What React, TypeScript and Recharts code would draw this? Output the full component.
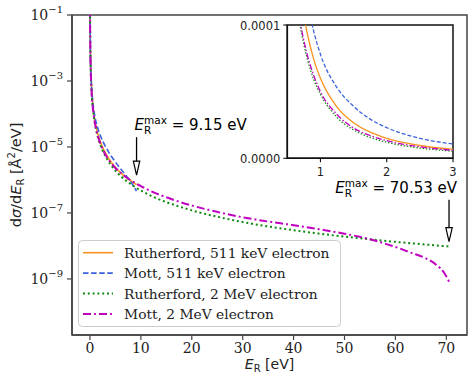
import { LineChart, Line, XAxis, YAxis, ReferenceDot, ReferenceArea } from 'recharts'

// recoil energy grid [eV]
const energies = [
  0.01, 0.02, 0.05, 0.1, 0.2, 0.3, 0.5, 0.6, 0.7, 0.8, 0.9, 1, 1.25, 1.5, 1.75, 2, 2.5, 3,
  4, 5, 6, 7, 8, 9.15, 10, 12, 15, 20, 25, 30, 35, 40, 45, 50, 55, 60, 63, 66, 68, 69.5, 70.53,
]

// dsigma/dE_R [A^2/eV], 511 keV curves stop at E_R max = 9.15 eV
const ruth511 = [
  0.6, 0.15, 0.024, 6e-3, 1.5e-3, 6.7e-4, 2.4e-4, 1.67e-4, 1.22e-4, 9.4e-5, 7.4e-5, 6.0e-5,
  3.84e-5, 2.67e-5, 1.96e-5, 1.5e-5, 9.6e-6, 6.7e-6, 3.75e-6, 2.4e-6, 1.67e-6, 1.22e-6, 9.4e-7, 7.2e-7,
]
const mott511 = [
  0.6, 0.15, 0.0245, 6.2e-3, 1.6e-3, 7.3e-4, 2.8e-4, 2.0e-4, 1.5e-4, 1.18e-4, 9.5e-5, 7.8e-5,
  5.3e-5, 3.9e-5, 2.94e-5, 2.3e-5, 1.5e-5, 1.07e-5, 5.8e-6, 3.5e-6, 2.2e-6, 1.4e-6, 8.9e-7, 4.6e-7,
]
const ruth2MeV = [
  0.48, 0.12, 0.0192, 4.8e-3, 1.2e-3, 5.3e-4, 1.92e-4, 1.33e-4, 9.8e-5, 7.5e-5, 5.9e-5, 4.8e-5,
  3.07e-5, 2.13e-5, 1.57e-5, 1.2e-5, 7.7e-6, 5.3e-6, 3.0e-6, 1.92e-6, 1.33e-6, 9.8e-7, 7.5e-7, 5.7e-7,
  4.8e-7, 3.3e-7, 2.13e-7, 1.2e-7, 7.7e-8, 5.3e-8, 3.9e-8, 3.0e-8, 2.37e-8, 1.92e-8, 1.59e-8, 1.33e-8,
  1.21e-8, 1.1e-8, 1.04e-8, 9.9e-9, 9.6e-9,
]
const mott2MeV = [
  0.48, 0.12, 0.0192, 4.8e-3, 1.2e-3, 5.35e-4, 1.96e-4, 1.36e-4, 1.01e-4, 7.8e-5, 6.2e-5, 5.0e-5,
  3.29e-5, 2.27e-5, 1.71e-5, 1.32e-5, 8.6e-6, 6.0e-6, 3.5e-6, 2.3e-6, 1.65e-6, 1.25e-6, 9.8e-7, 7.6e-7,
  6.5e-7, 4.55e-7, 2.98e-7, 1.68e-7, 1.08e-7, 7.4e-8, 5.5e-8, 4.25e-8, 3.2e-8, 2.35e-8, 1.59e-8, 9.3e-9,
  6.3e-9, 4.2e-9, 2.7e-9, 1.6e-9, 8.3e-10,
]

const xTicks = [0, 10, 20, 30, 40, 50, 60, 70]
const yTicks = [1e-9, 1e-7, 1e-5, 1e-3, 1e-1]
const insetXTicks = [1, 2, 3]
const insetYTicks = [0, 0.0001]

const emax511 = 9.15
const emax2MeV = 70.53

const X_DOMAIN = [-3.53, 74.06]
const Y_DOMAIN = [2e-11, 0.1]
const INSET_X = [0.5, 3]
const INSET_Y = [0, 0.0001]

const SERIES = [
  { key: 'r511', name: 'Rutherford, 511 keV electron', color: '#f7931e', dash: undefined, width: 1.6, insetDash: undefined },
  { key: 'm511', name: 'Mott, 511 keV electron', color: '#3b62de', dash: '5.5 2.6', width: 1.6, insetDash: '4 2' },
  { key: 'r2', name: 'Rutherford, 2 MeV electron', color: '#118a11', dash: '2 2.8', width: 2, insetDash: '1.4 1.8' },
  { key: 'm2', name: 'Mott, 2 MeV electron', color: '#bf00bf', dash: '8 3 2 3', width: 2, insetDash: '6 2 1.5 2' },
]

const rows = energies.map((e, i) => ({
  e,
  r511: ruth511[i] ?? null,
  m511: mott511[i] ?? null,
  r2: ruth2MeV[i],
  m2: mott2MeV[i],
}))
const insetRows = rows.filter(r => r.e >= 0.3 && r.e <= 4)

const SERIF = '"DejaVu Serif", serif'
const SANS = '"DejaVu Sans", sans-serif'
const INK = '#222'
const SPINE = '#444'

const LogTick = ({ x, y, payload }: any) => {
  const exp = Math.round(Math.log10(payload.value))
  return (
    <text x={x} y={y} dy={5} textAnchor="end" fontFamily={SERIF} fontSize={14} fill={INK}>
      10<tspan dy={-7} fontSize={10}>{'\u2212' + Math.abs(exp)}</tspan>
    </text>
  )
}

const SerifXTick = ({ x, y, payload }: any) => (
  <text x={x} y={y} dy={10} textAnchor="middle" fontFamily={SERIF} fontSize={14} fill={INK}>
    {payload.value}
  </text>
)

const InsetXTick = ({ x, y, payload }: any) => (
  <text x={x} y={y} dy={10.5} textAnchor="middle" fontFamily={SANS} fontSize={11.5} fill={INK}>
    {payload.value}
  </text>
)

const InsetYTick = ({ x, y, payload }: any) => (
  <text x={x} y={y} dy={4.5} textAnchor="end" fontFamily={SANS} fontSize={11.5} fill={INK}>
    {payload.value.toFixed(4)}
  </text>
)

function Arrow({ cx, cy, len, children }: any) {
  return (
    <g>
      <line x1={cx} y1={cy - len} x2={cx} y2={cy - 12} stroke="#000" strokeWidth={1.3} />
      <polygon points={`${cx},${cy} ${cx - 3.2},${cy - 14} ${cx + 3.2},${cy - 14}`} fill="#fff" stroke="#000" strokeWidth={1.2} />
      {children}
    </g>
  )
}

function EmaxText({ x, y, anchor, value }: any) {
  return (
    <text x={x} y={y} textAnchor={anchor} fontFamily={SANS} fontSize={15} fill="#000">
      <tspan fontStyle="italic">E</tspan>
      <tspan fontSize={10.5} dy={4}>R</tspan>
      <tspan fontSize={10.5} dx={-7.3} dy={-10}>max</tspan>
      <tspan dy={6}>{` = ${value} eV`}</tspan>
    </text>
  )
}

function Legend() {
  return (
    <svg width={270} height={95} style={{ position: 'absolute', left: 74, top: 236 }}>
      <rect x={4.5} y={4.5} width={262} height={86} rx={4} fill="rgba(255,255,255,0.85)" stroke="#ccc" />
      {SERIES.map((s, i) => {
        const cy = 16.7 + i * 20.4
        return (
          <g key={s.key}>
            <line x1={9} x2={39} y1={cy} y2={cy} stroke={s.color} strokeWidth={s.width} strokeDasharray={s.dash} />
            <text x={50} y={cy + 5} fontFamily={SERIF} fontSize={13.8} fill={INK}>{s.name}</text>
          </g>
        )
      })}
    </svg>
  )
}

export default function App() {
  return (
    <div style={{ position: 'absolute', left: 0, top: 0, width: 474, height: 384, background: '#fff' }}>
      <LineChart width={474} height={384} data={rows} margin={{ top: 15, right: 7, left: 0, bottom: 0 }}>
        <XAxis
          dataKey="e"
          type="number"
          domain={X_DOMAIN}
          ticks={xTicks}
          allowDataOverflow
          height={49}
          tick={SerifXTick}
          tickSize={5}
          tickMargin={3}
          axisLine={{ stroke: SPINE, strokeWidth: 1.5 }}
          tickLine={{ stroke: SPINE, strokeWidth: 1.2 }}
        />
        <YAxis
          scale="log"
          domain={Y_DOMAIN}
          ticks={yTicks}
          allowDataOverflow
          width={72}
          tick={LogTick}
          tickSize={5}
          tickMargin={4}
          axisLine={{ stroke: SPINE, strokeWidth: 1.5 }}
          tickLine={{ stroke: SPINE, strokeWidth: 1.2 }}
        />
        {/* frame: top and right spines */}
        <ReferenceArea
          x1={X_DOMAIN[0]}
          x2={X_DOMAIN[1]}
          y1={Y_DOMAIN[0]}
          y2={Y_DOMAIN[1]}
          fill="none"
          fillOpacity={0}
          stroke={SPINE}
          strokeWidth={1.5}
          ifOverflow="visible"
        />
        {SERIES.map(s => (
          <Line
            key={s.key}
            dataKey={s.key}
            type="monotone"
            stroke={s.color}
            strokeWidth={s.width}
            strokeDasharray={s.dash}
            dot={false}
            isAnimationActive={false}
          />
        ))}
        <ReferenceDot
          x={emax511}
          y={1.4e-6}
          r={0}
          shape={(p: any) => (
            <Arrow cx={p.cx} cy={p.cy} len={38}>
              <EmaxText x={p.cx - 2} y={p.cy - 45} anchor="start" value={emax511} />
            </Arrow>
          )}
        />
        <ReferenceDot
          x={emax2MeV}
          y={1.35e-8}
          r={0}
          shape={(p: any) => (
            <Arrow cx={p.cx} cy={p.cy} len={42}>
              <EmaxText x={p.cx + 8} y={p.cy - 49} anchor="end" value={emax2MeV} />
            </Arrow>
          )}
        />
      </LineChart>

      {/* axis labels */}
      <svg width={474} height={384} style={{ position: 'absolute', left: 0, top: 0, pointerEvents: 'none' }}>
        <text x={269.5} y={369} textAnchor="middle" fontFamily={SANS} fontSize={14} fill={INK}>
          <tspan fontStyle="italic">E</tspan>
          <tspan fontSize={10} dy={3}>R</tspan>
          <tspan dy={-3}> [eV]</tspan>
        </text>
        <text transform="translate(21,175) rotate(-90)" textAnchor="middle" fontFamily={SANS} fontSize={14.5} fill={INK}>
          d<tspan fontStyle="italic">σ</tspan>/d<tspan fontStyle="italic">E</tspan>
          <tspan fontSize={10} dy={3}>R</tspan>
          <tspan dy={-3}> [Å</tspan>
          <tspan fontSize={10} dy={-6}>2</tspan>
          <tspan dy={6}>/eV]</tspan>
        </text>
      </svg>

      <Legend />

      {/* inset */}
      <div style={{ position: 'absolute', left: 217, top: 15 }}>
        <LineChart width={241} height={163} data={insetRows} margin={{ top: 10, right: 5, left: 0, bottom: 0 }}>
          <XAxis
            dataKey="e"
            type="number"
            domain={INSET_X}
            ticks={insetXTicks}
            allowDataOverflow
            height={19.7}
            tick={InsetXTick}
            tickSize={4}
            tickMargin={3}
            axisLine={{ stroke: '#111', strokeWidth: 1.5 }}
            tickLine={{ stroke: '#111', strokeWidth: 1.1 }}
          />
          <YAxis
            domain={INSET_Y}
            ticks={insetYTicks}
            allowDataOverflow
            width={70.3}
            tick={InsetYTick}
            tickSize={4}
            tickMargin={3}
            axisLine={{ stroke: '#111', strokeWidth: 1.5 }}
            tickLine={{ stroke: '#111', strokeWidth: 1.1 }}
          />
          <ReferenceArea
            x1={INSET_X[0]}
            x2={INSET_X[1]}
            y1={INSET_Y[0]}
            y2={INSET_Y[1]}
            fill="none"
            fillOpacity={0}
            stroke="#111"
            strokeWidth={1.5}
            ifOverflow="visible"
          />
          {SERIES.map(s => (
            <Line
              key={s.key}
              dataKey={s.key}
              type="monotone"
              stroke={s.color}
              strokeWidth={1.3}
              strokeDasharray={s.insetDash}
              dot={false}
              isAnimationActive={false}
            />
          ))}
        </LineChart>
      </div>
    </div>
  )
}
